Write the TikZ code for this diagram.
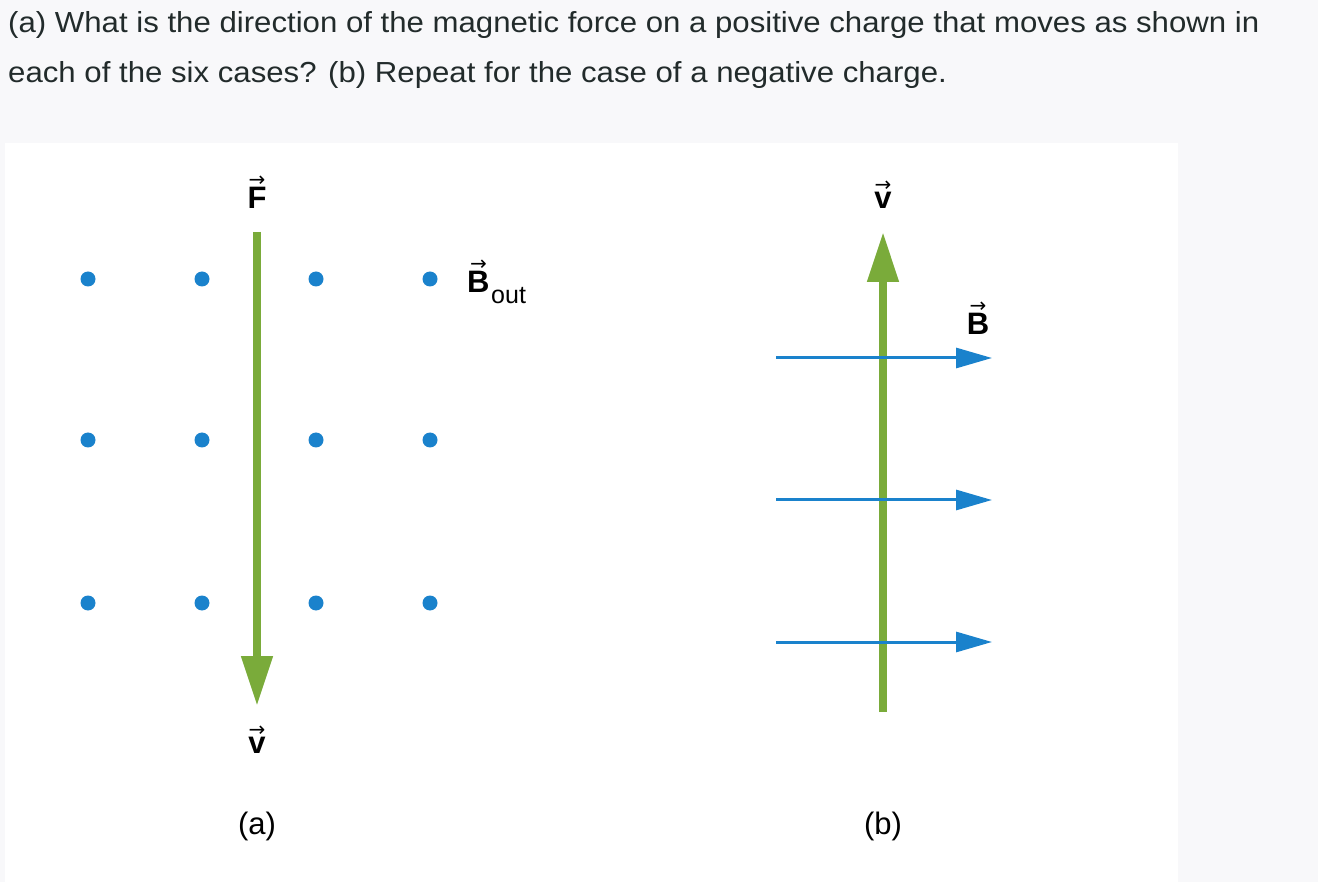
\documentclass[tikz,border=0pt]{standalone}
\usepackage{fontspec}
\setmainfont{Liberation Sans}
\newfontfamily\djfont{DejaVu Sans}
\usetikzlibrary{arrows.meta}
\definecolor{bg}{HTML}{F8F8FA}
\definecolor{dotb}{HTML}{1A82CC}
\definecolor{grn}{HTML}{7AAB3A}
\definecolor{txt}{HTML}{222B2B}
\newcommand{\myvec}[1]{\shortstack[c]{{\djfont\fontsize{20}{10}\selectfont\raisebox{-6pt}{→}}\\[-2pt]\textbf{#1}}}
\tikzset{dot/.style={circle,fill=dotb,inner sep=0,minimum size=15},
lab/.style={font=\fontsize{31}{30}\selectfont,text=black,inner sep=0},
ttl/.style={anchor=base west,inner sep=0,text=txt,font=\fontsize{29}{30}\selectfont},
garrow/.style={grn,line width=8,-{Triangle[length=50,width=30]}},
barrow/.style={dotb,line width=3,-{Triangle[length=36,width=20]}}}
\begin{document}
\begin{tikzpicture}[x=1pt,y=-1pt]
\useasboundingbox (0,0) rectangle (1318,882);
\fill[bg] (0,0) rectangle (1318,882);
\fill[white] (5,143) rectangle (1178,882);
\node[ttl] (t1) at (8,33) {\scalebox{1.075}[1]{(a) What is the direction of the magnetic force on a positive charge that moves as shown in}};
\node[ttl] (t2) at (8,83) {\scalebox{1.075}[1]{each of the six cases? (b) Repeat for the case of a negative charge.}};
\foreach \x [count=\i] in {88,202,316,430}
  \foreach \y [count=\j] in {279,440,603}
    \node[dot] (d\i\j) at (\x,\y) {};
\coordinate (fa) at (257,232); \coordinate (fb) at (257,706);
\draw[garrow] (fa) -- (fb);
\node[lab] (F) at (257,192) {\myvec{F}};
\node[lab] (va) at (257,740) {\myvec{v}};
\node[lab,anchor=west] (Bo) at (467,276) {\myvec{B}};
\node[anchor=west,inner sep=0,font=\fontsize{25}{25}\selectfont] (out) at (491,296) {out};
\node[lab] (pa) at (257,826) {(a)};
\coordinate (ga) at (883,712); \coordinate (gb) at (883,232);
\draw[garrow] (ga) -- (gb);
\node[lab] (vb) at (883,195) {\myvec{v}};
\node[lab] (B) at (978,318) {\myvec{B}};
\foreach \y [count=\k] in {358,500,642}{
  \coordinate (l\k) at (776,\y); \coordinate (r\k) at (992,\y);
  \draw[barrow] (l\k) -- (r\k);}
\node[lab] (pb) at (883,826) {(b)};
\end{tikzpicture}
\end{document}
